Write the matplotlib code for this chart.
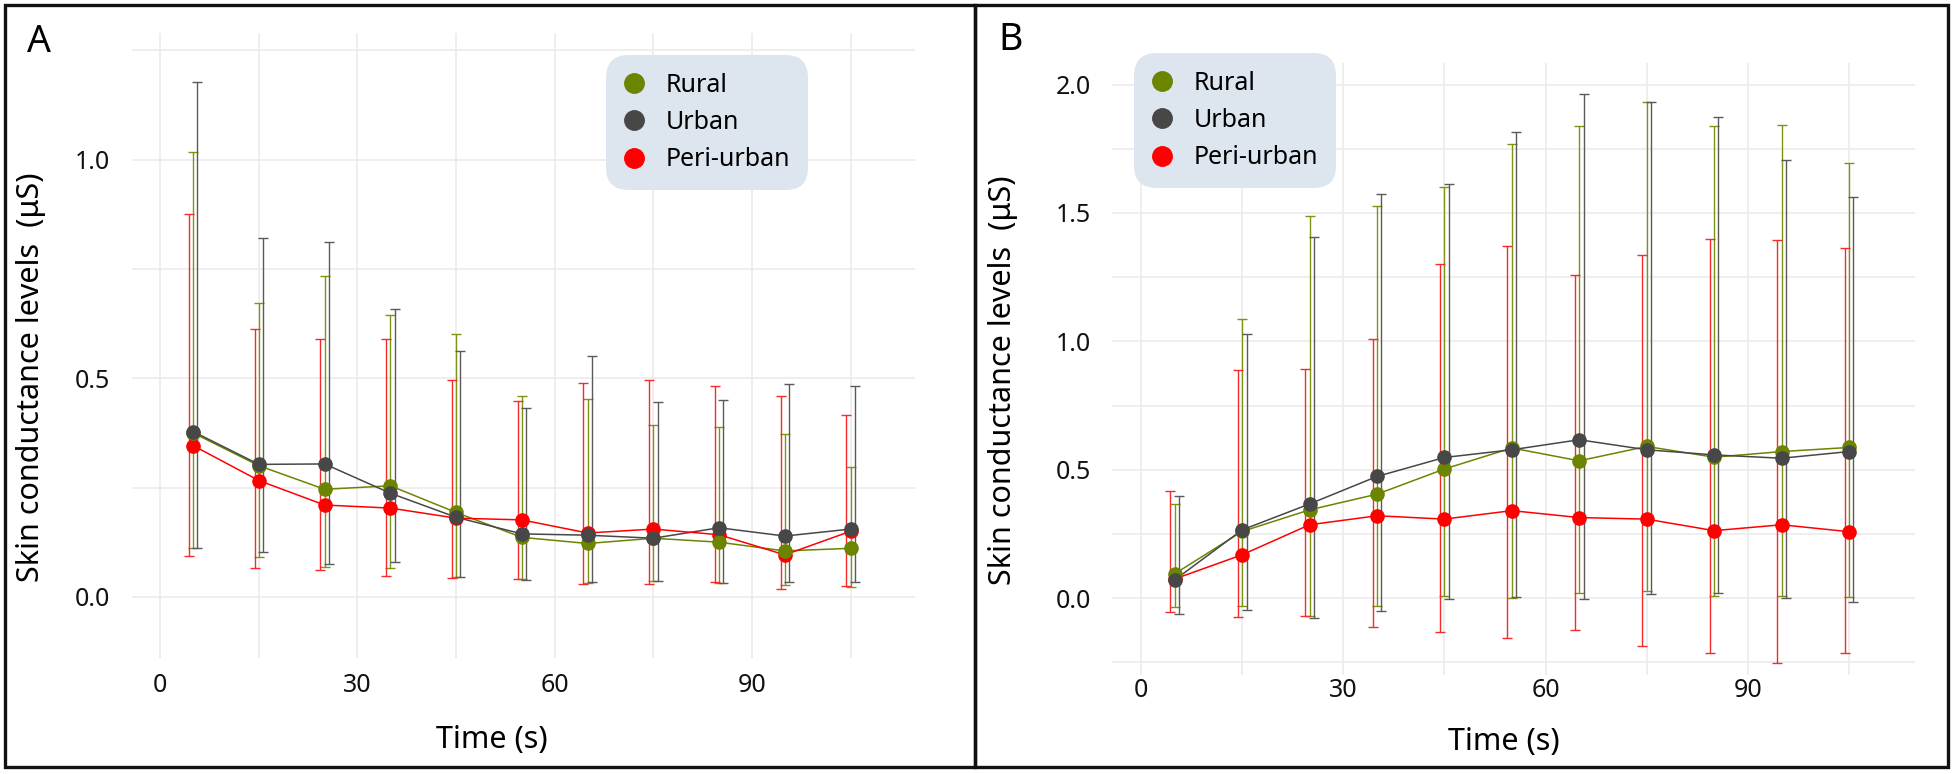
import numpy as np
import matplotlib.pyplot as plt
from matplotlib.lines import Line2D
from matplotlib.patches import Rectangle

plt.rcParams['font.family'] = ['Noto Sans', 'DejaVu Sans']

# time bins (s)
time = [5, 15, 25, 35, 45, 55, 65, 75, 85, 95, 105]
groups = ['Rural', 'Urban', 'Peri-urban']

# panel A: means, upper and lower error limits
rural_a = [0.375, 0.300, 0.246, 0.254, 0.193, 0.136, 0.122, 0.134, 0.125, 0.105, 0.111]
urban_a = [0.378, 0.303, 0.304, 0.237, 0.182, 0.144, 0.141, 0.134, 0.158, 0.139, 0.155]
peri_a = [0.346, 0.266, 0.210, 0.203, 0.180, 0.176, 0.146, 0.155, 0.142, 0.096, 0.150]
rural_hi_a = [1.018, 0.672, 0.734, 0.645, 0.602, 0.460, 0.453, 0.394, 0.389, 0.373, 0.298]
urban_hi_a = [1.178, 0.820, 0.811, 0.659, 0.562, 0.432, 0.550, 0.445, 0.450, 0.487, 0.483]
peri_hi_a = [0.875, 0.612, 0.591, 0.589, 0.497, 0.447, 0.490, 0.497, 0.483, 0.460, 0.417]
rural_lo_a = [0.112, 0.092, 0.069, 0.067, 0.045, 0.040, 0.031, 0.036, 0.031, 0.028, 0.023]
urban_lo_a = [0.112, 0.103, 0.076, 0.080, 0.046, 0.038, 0.033, 0.036, 0.031, 0.033, 0.035]
peri_lo_a = [0.094, 0.065, 0.061, 0.048, 0.044, 0.041, 0.029, 0.029, 0.035, 0.018, 0.025]

# panel B
rural_b = [0.095, 0.260, 0.344, 0.405, 0.503, 0.585, 0.535, 0.591, 0.549, 0.571, 0.587]
urban_b = [0.071, 0.266, 0.367, 0.474, 0.548, 0.578, 0.617, 0.578, 0.558, 0.545, 0.571]
peri_b = [0.075, 0.169, 0.286, 0.321, 0.308, 0.341, 0.314, 0.308, 0.263, 0.286, 0.259]
rural_hi_b = [0.366, 1.087, 1.490, 1.529, 1.600, 1.770, 1.840, 1.931, 1.840, 1.844, 1.693]
urban_hi_b = [0.399, 1.028, 1.405, 1.574, 1.613, 1.814, 1.965, 1.931, 1.874, 1.707, 1.561]
peri_hi_b = [0.418, 0.887, 0.893, 1.010, 1.302, 1.370, 1.259, 1.337, 1.398, 1.393, 1.363]
rural_lo_b = [-0.035, -0.030, -0.071, -0.030, 0.009, 0.000, 0.019, 0.030, 0.009, 0.009, 0.004]
urban_lo_b = [-0.061, -0.046, -0.077, -0.049, -0.004, 0.004, -0.004, 0.018, 0.022, 0.000, -0.016]
peri_lo_b = [-0.055, -0.072, -0.068, -0.112, -0.133, -0.153, -0.123, -0.185, -0.214, -0.253, -0.214]

point_col = {'Rural': '#6b8500', 'Urban': '#474747', 'Peri-urban': '#ff0000'}
bar_col = {'Rural': '#7d9412', 'Urban': '#5a5a5a', 'Peri-urban': '#f52a2a'}
dodge = {'Peri-urban': -0.65, 'Rural': 0.0, 'Urban': 0.65}

W, H = 1954, 774
fig = plt.figure(figsize=(W / 100, H / 100), dpi=100)


def fx(px):
    return px / W


def fy(py):
    return 1 - py / H


def panel(rect, data, ylim, yticks, xpad, ypad):
    ax = fig.add_axes(rect)
    t = np.array(time)
    # error bars first
    for g in groups:
        m, lo, hi = data[g]
        m = np.array(m); lo = np.array(lo); hi = np.array(hi)
        ax.errorbar(t + dodge[g], m, yerr=[m - lo, hi - m], fmt='none',
                    ecolor=bar_col[g], elinewidth=1.0, capsize=3.6, capthick=1.0, zorder=2)
    for g in groups:
        m = data[g][0]
        ax.plot(time, m, color=point_col[g], lw=1.1, zorder=3)
    for g in ['Peri-urban', 'Rural', 'Urban']:
        m = data[g][0]
        ax.plot(time, m, 'o', color=point_col[g], ms=9.5, mec=point_col[g], zorder=4)
    ax.set_xticks([0, 30, 60, 90])
    ax.set_xticks([15, 45, 75, 105], minor=True)
    ax.set_yticks(yticks)
    ax.set_yticks(np.arange(-0.25, ylim[1], 0.5), minor=True)
    ax.set_yticklabels(['%.1f' % v for v in yticks])
    # limits after ticks so the minor ticks do not widen the view
    ax.set_xlim(-4.3, 114.8)
    ax.set_ylim(*ylim)
    ax.grid(True, which='both', color='#ebebeb', lw=1.2)
    ax.set_axisbelow(True)
    for s in ax.spines.values():
        s.set_visible(False)
    ax.tick_params(which='both', length=0, labelsize=18, labelcolor='#111111')
    ax.tick_params(axis='x', pad=xpad)
    ax.tick_params(axis='y', pad=ypad)
    handles = [Line2D([], [], marker='o', ls='none', color=point_col[g], ms=14) for g in groups]
    return ax, handles


data_a = {'Rural': (rural_a, rural_lo_a, rural_hi_a),
          'Urban': (urban_a, urban_lo_a, urban_hi_a),
          'Peri-urban': (peri_a, peri_lo_a, peri_hi_a)}
data_b = {'Rural': (rural_b, rural_lo_b, rural_hi_b),
          'Urban': (urban_b, urban_lo_b, urban_hi_b),
          'Peri-urban': (peri_b, peri_lo_b, peri_hi_b)}

ax_a, h_a = panel([fx(132), fy(658), fx(915 - 132), (658 - 33) / H], data_a,
                  (-0.14, 1.29), [0.0, 0.5, 1.0], 11, 16)
ax_b, h_b = panel([fx(1112), fy(675), fx(1915 - 1112), (675 - 63) / H], data_b,
                  (-0.299, 2.084), [0.0, 0.5, 1.0, 1.5, 2.0], 2, 15)

for ax, h, (lx, ly) in [(ax_a, h_a, (606, 55)), (ax_b, h_b, (1134, 53))]:
    leg = ax.legend(h, groups, loc='upper left', bbox_to_anchor=(fx(lx), fy(ly)),
                    bbox_transform=fig.transFigure, fontsize=18, frameon=True,
                    facecolor='#dde5ef', edgecolor='none', framealpha=1,
                    handlelength=0.8, handletextpad=0.9, labelspacing=0.5,
                    borderpad=0.7, borderaxespad=0)
    leg.get_frame().set_boxstyle('round,pad=0,rounding_size=0.9')
    leg._legend_box.align = 'left'
    leg.set_zorder(10)

# panel frames
fig.patches.append(Rectangle((fx(5), fy(767)), fx(975 - 5), (767 - 5) / H,
                             transform=fig.transFigure, fill=False, lw=2.4, ec='#111111'))
fig.patches.append(Rectangle((fx(975), fy(767)), fx(1948 - 975), (767 - 5) / H,
                             transform=fig.transFigure, fill=False, lw=2.4, ec='#111111'))

fig.text(fx(27), fy(52), 'A', fontsize=27, ha='left', va='baseline')
fig.text(fx(998), fy(50), 'B', fontsize=27, ha='left', va='baseline')

ylab = 'Skin conductance levels  (\u03bcS)'
fig.text(fx(31), fy(377), ylab, rotation=90, fontsize=22, ha='center', va='center')
fig.text(fx(1003), fy(380), ylab, rotation=90, fontsize=22, ha='center', va='center')
fig.text(fx(492), fy(748), 'Time (s)', fontsize=22, ha='center', va='baseline')
fig.text(fx(1504), fy(750), 'Time (s)', fontsize=22, ha='center', va='baseline')

fig.savefig('out.png', dpi=100, facecolor='white')
